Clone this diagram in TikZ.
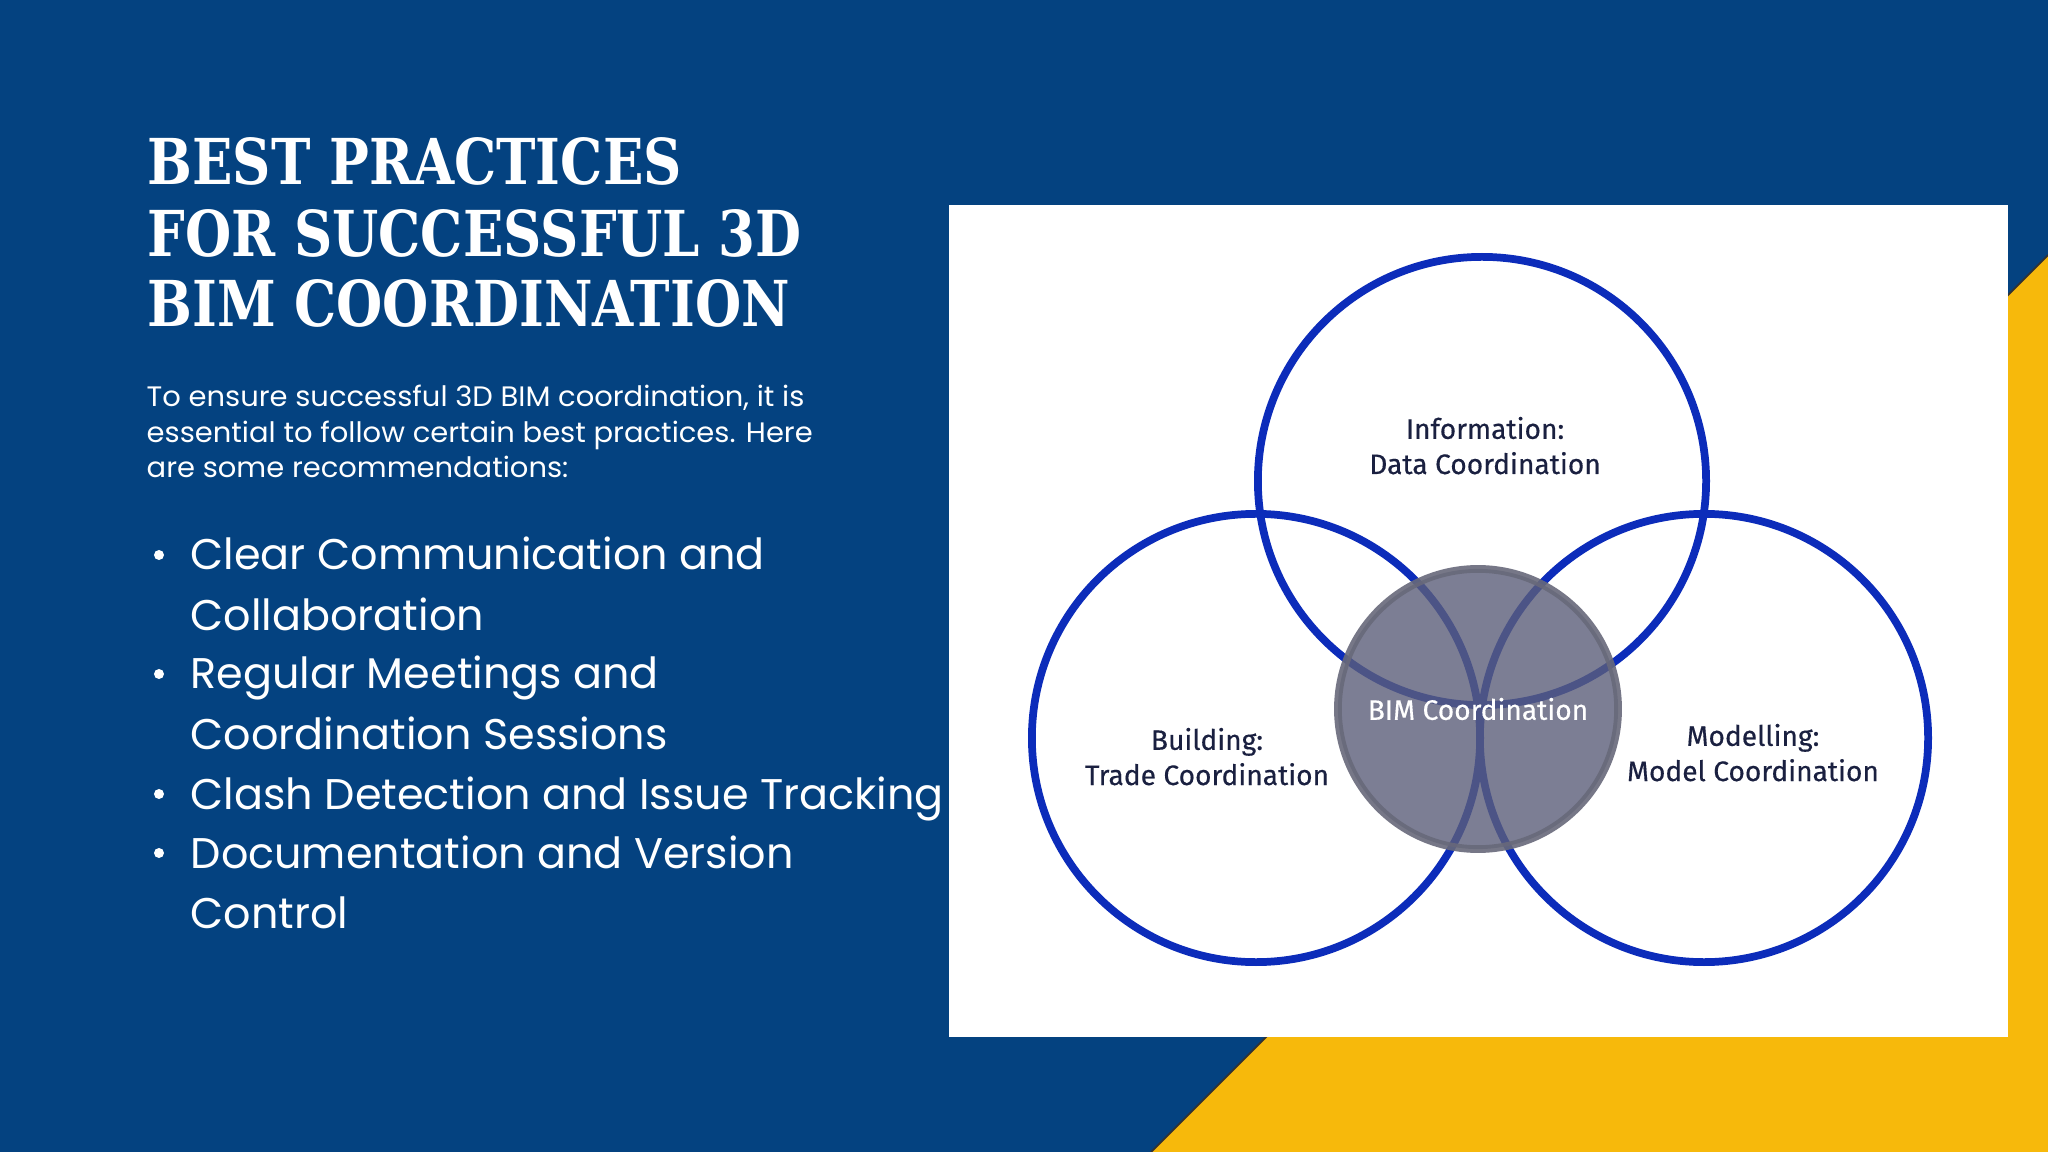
\documentclass[tikz,border=0pt]{standalone}
\usepackage{fontspec}
\setmainfont{Poppins}
\newfontfamily\headfont[FakeStretch=0.838]{DejaVu Serif}
\newfontfamily\introfont[FakeStretch=1.03]{Poppins}
\newfontfamily\vennfont[FakeBold=0.4]{Fira Sans}
\usepackage{xcolor}
\usetikzlibrary{positioning}
\definecolor{navy}{RGB}{4,66,128}
\definecolor{gold}{RGB}{247,185,11}
\definecolor{ringblue}{RGB}{12,44,186}
\definecolor{coregray}{RGB}{92,94,122}
\definecolor{coreedge}{RGB}{104,105,122}
\definecolor{ink}{RGB}{26,32,64}

\begin{document}
\begin{tikzpicture}[
  x=0.01cm, y=-0.01cm,
  headline/.style={anchor=base west, inner sep=0pt, text=white, font=\headfont\bfseries\fontsize{18}{20}\selectfont},
  introline/.style={anchor=base west, inner sep=0pt, text=white, font=\introfont\fontsize{8}{10}\selectfont},
  itemline/.style={anchor=base west, inner sep=0pt, text=white, font=\fontsize{12.2}{17}\selectfont},
  itemdot/.style={circle, fill=white, inner sep=0pt, minimum size=0.1cm},
  ring/.style={circle, draw=ringblue, line width=2.2pt, inner sep=0pt, minimum size=4.48cm},
  core/.style={circle, fill=coregray, fill opacity=0.8, draw=coreedge, draw opacity=0.9, line width=2.2pt,
    inner sep=0pt, minimum size=2.8cm, text=white, text opacity=1, font=\vennfont\fontsize{8}{9}\selectfont},
  tag/.style={anchor=base, align=center, inner sep=0pt, text=ink, font=\vennfont\fontsize{8}{10}\selectfont}
]
  \useasboundingbox (0,0) rectangle (2048,1152);

  % Background: navy slide with gold corner
  \fill[navy] (0,0) rectangle (2048,1152);
  \fill[gold] (1151,1152) -- (2048,255) -- (2048,1152) -- cycle;
  \draw[black!80, line width=0.5pt] (1151,1152) -- (2048,255);

  % Left column: heading
  \node[headline] (head1) at (147,185) {BEST PRACTICES};
  \node[headline] (head2) at (147,257) {FOR SUCCESSFUL 3D};
  \node[headline] (head3) at (147,327) {BIM COORDINATION};

  % Left column: intro text
  \node[introline] (intro1) at (146,407) {To ensure successful 3D BIM coordination, it is};
  \node[introline] (intro2) at (146,443) {essential to follow certain best practices. Here};
  \node[introline] (intro3) at (146,478) {are some recommendations:};

  % Left column: bullet list
  \node[itemline] (item1a) at (190,570) {Clear Communication and};
  \node[itemline] (item1b) at (190,630) {Collaboration};
  \node[itemline] (item2a) at (190,689) {Regular Meetings and};
  \node[itemline] (item2b) at (190,749) {Coordination Sessions};
  \node[itemline] (item3a) at (190,809) {Clash Detection and Issue Tracking};
  \node[itemline] (item4a) at (190,868) {Documentation and Version};
  \node[itemline] (item4b) at (190,928) {Control};
  \node[itemdot] (dot1) at (159,555) {};
  \node[itemdot] (dot2) at (159,674) {};
  \node[itemdot] (dot3) at (159,794) {};
  \node[itemdot] (dot4) at (159,853) {};

  % Right column: white panel with Venn diagram
  \fill[white] (949,205) rectangle (2008,1037);
  \node[ring] (info) at (1482,481) {};
  \node[ring] (build) at (1256,738) {};
  \node[ring] (model) at (1704,738) {};
  \node[core] (bim) at (1478,709) {BIM Coordination};

  \node[tag] (infotag) at (1485,474) {Information:\\Data Coordination};
  \node[tag] (buildtag) at (1207,785) {Building:\\Trade Coordination};
  \node[tag] (modeltag) at (1753,781) {Modelling:\\Model Coordination};
\end{tikzpicture}
\end{document}
